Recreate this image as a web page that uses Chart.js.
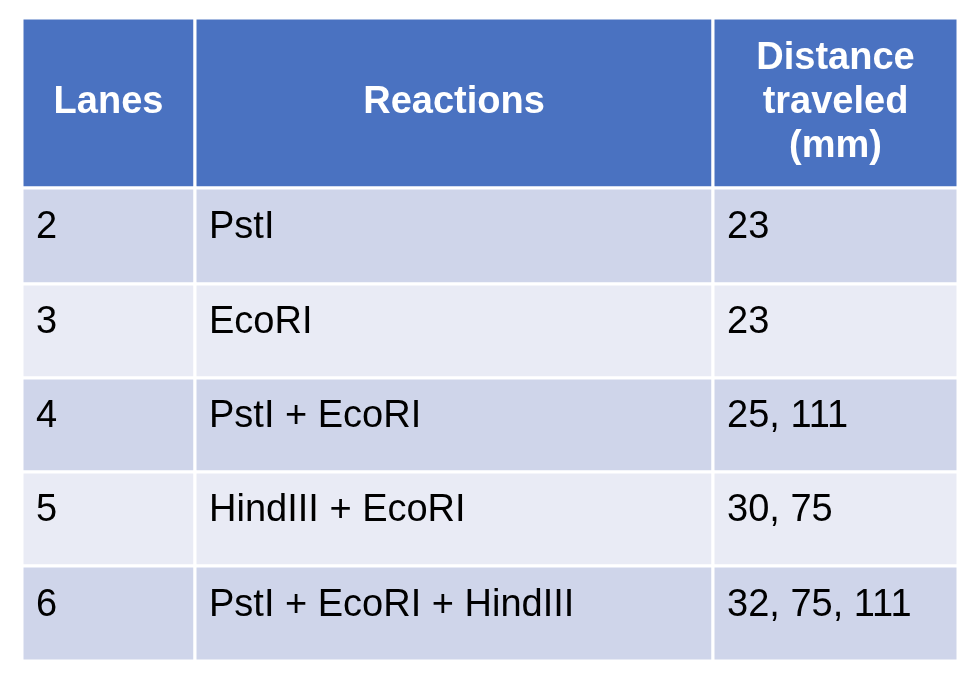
<!DOCTYPE html>
<html>
<head>
<meta charset="utf-8">
<script src="https://cdn.jsdelivr.net/npm/chart.js@4/dist/chart.umd.min.js"></script>
<style>
  html, body { margin: 0; padding: 0; background: #fff; }
  #wrap { width: 976px; height: 678px; }
</style>
</head>
<body>
<div id="wrap"><canvas id="tableChart"></canvas></div>
<script>
// table data
const headers = [["Lanes"], ["Reactions"], ["Distance", "traveled", "(mm)"]];
const lanes = ["2", "3", "4", "5", "6"];
const reactions = ["PstI", "EcoRI", "PstI + EcoRI", "HindIII + EcoRI", "PstI + EcoRI + HindIII"];
const distances = ["23", "23", "25, 111", "30, 75", "32, 75, 111"];

// layout (scale units = pixels of the reference)
const colEdges = [22, 195, 713, 958];
const rowEdges = [18, 188, 284, 378, 472, 566, 661];

const tablePlugin = {
  id: 'tablePlugin',
  afterDraw(chart) {
    const ctx = chart.ctx;
    const xs = chart.scales.x, ys = chart.scales.y;
    const X = v => xs.getPixelForValue(v);
    const Y = v => ys.getPixelForValue(v);
    const body = [lanes, reactions, distances];
    ctx.save();
    for (let r = 0; r < rowEdges.length - 1; r++) {
      for (let c = 0; c < colEdges.length - 1; c++) {
        const x0 = X(colEdges[c]), x1 = X(colEdges[c + 1]);
        const y0 = Y(rowEdges[r]), y1 = Y(rowEdges[r + 1]);
        ctx.fillStyle = r === 0 ? '#4a72c1' : (r % 2 === 1 ? '#cfd5ea' : '#e9ebf5');
        ctx.fillRect(x0, y0, x1 - x0, y1 - y0);
        ctx.strokeStyle = '#ffffff';
        ctx.lineWidth = 3;
        ctx.strokeRect(x0, y0, x1 - x0, y1 - y0);
        const cy = (y0 + y1) / 2;
        ctx.textBaseline = 'middle';
        if (r === 0) {
          const lines = headers[c];
          ctx.fillStyle = '#ffffff';
          ctx.font = 'bold 38px "Liberation Sans", Arial, sans-serif';
          ctx.textAlign = 'center';
          const lh = 44;
          lines.forEach((t, i) => {
            ctx.fillText(t, (x0 + x1) / 2, cy + (i - (lines.length - 1) / 2) * lh);
          });
        } else {
          ctx.fillStyle = '#000000';
          ctx.font = '38px "Liberation Sans", Arial, sans-serif';
          ctx.textAlign = 'left';
          ctx.fillText(body[c][r - 1], x0 + 14, cy - 8);
        }
      }
    }
    ctx.restore();
  }
};

new Chart(document.getElementById('tableChart').getContext('2d'), {
  type: 'scatter',
  data: { datasets: [{ data: [] }] },
  options: {
    responsive: true,
    maintainAspectRatio: false,
    animation: false,
    layout: { padding: 0 },
    plugins: { legend: { display: false }, tooltip: { enabled: false } },
    scales: {
      x: { type: 'linear', min: 0, max: 976, display: false },
      y: { type: 'linear', min: 0, max: 678, reverse: true, display: false }
    }
  },
  plugins: [tablePlugin]
});
</script>
</body>
</html>
